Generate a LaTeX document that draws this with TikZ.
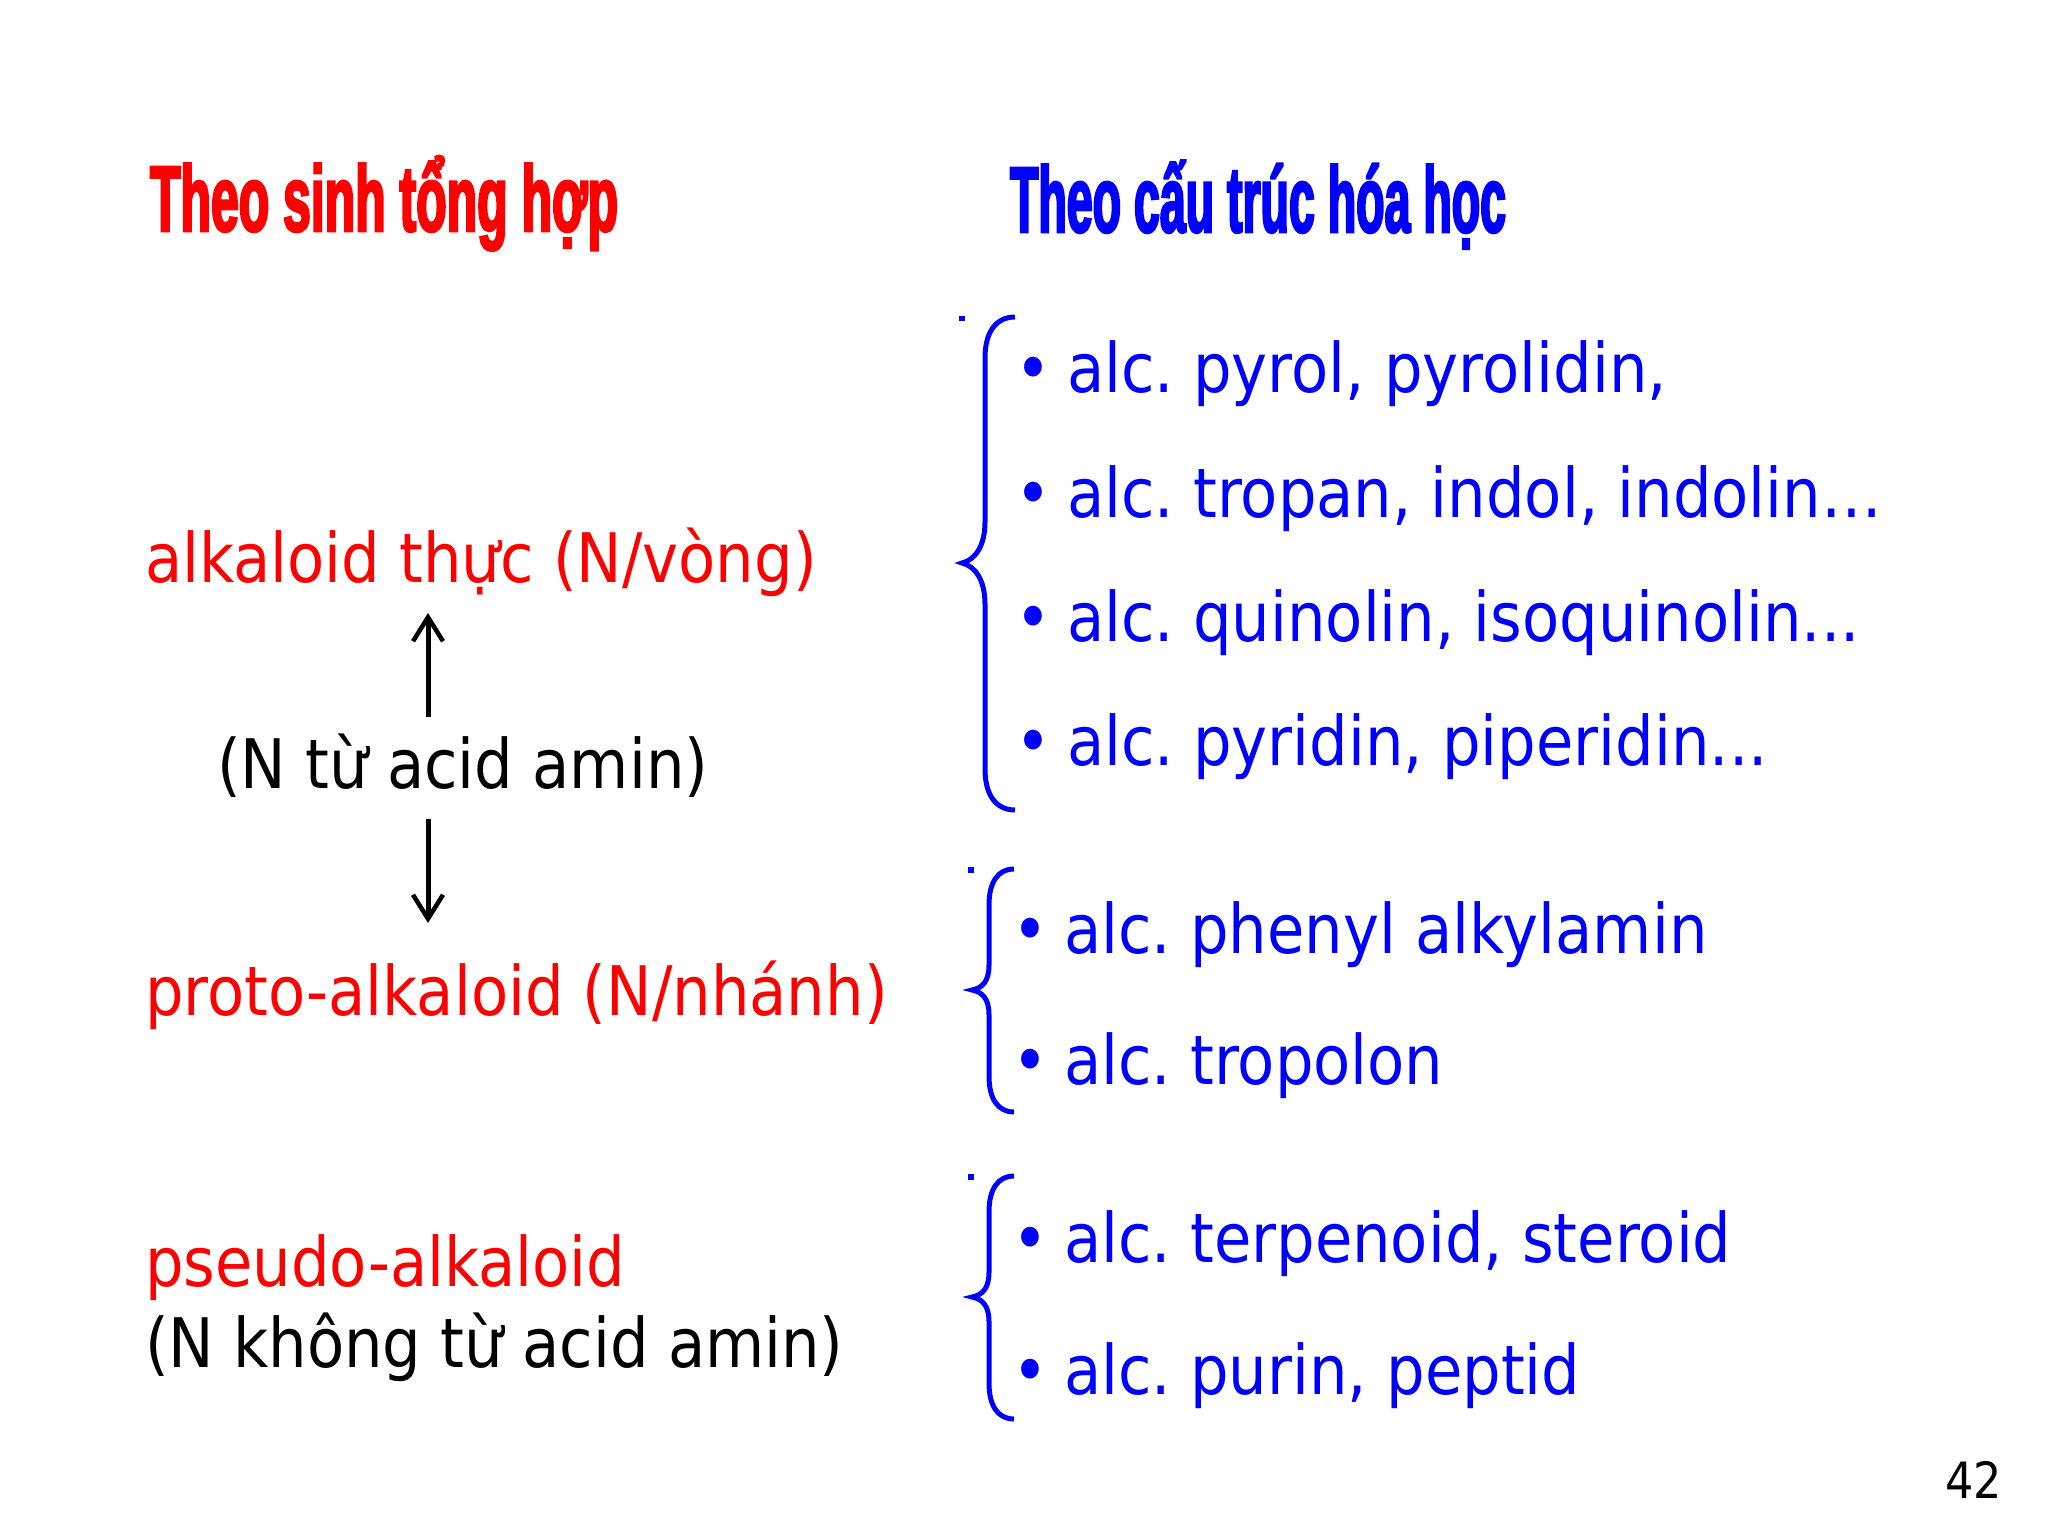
\documentclass[tikz,border=0pt]{standalone}
\usepackage{fontspec}
\usepackage{graphicx}
\usetikzlibrary{arrows.meta}
\newfontfamily\bodyfont[FakeStretch=0.89]{DejaVu Sans}
\newfontfamily\titlefont[FakeStretch=0.72,FakeBold=3]{Liberation Sans}
\definecolor{pptred}{RGB}{255,0,0}
\definecolor{pptblue}{RGB}{0,0,255}
\tikzset{
  txt/.style={anchor=base west, inner sep=0pt, outer sep=0pt, font=\bodyfont\fontsize{68.3}{80}\selectfont\frenchspacing},
  redtxt/.style={txt, text=pptred},
  blktxt/.style={txt, text=black},
  item/.style={txt, text=pptblue},
  ttl/.style={anchor=base west, inner sep=0pt, outer sep=0pt},
  brace/.style={draw=pptblue, line width=5pt, line cap=butt},
  dotmark/.style={fill=pptblue},
  arr/.style={draw=black, line width=5pt, -{Straight Barb[length=24pt,width=30pt,line width=4.5pt]}},
}
\newcommand{\bul}{\llap{•\hspace{16pt}}}
\begin{document}
\begin{tikzpicture}[x=1pt,y=-1pt]
\useasboundingbox (0,0) rectangle (2048,1536);
\fill[white] (0,0) rectangle (2048,1536);

% titles
\node[ttl, text=pptred] (t1) at (150,231) {\resizebox{468pt}{\height}{\titlefont\bfseries\fontsize{93}{100}\selectfont Theo sinh tổng hợp}};
\node[ttl, text=pptblue] (t2) at (1010,232) {\resizebox{496pt}{\height}{\titlefont\bfseries\fontsize{93}{100}\selectfont Theo cấu trúc hóa học}};

% left column
\node[redtxt] (alk) at (145,582) {alkaloid thực (N/vòng)};
\node[blktxt] (mid) at (217,788) {(N từ acid amin)};
\node[redtxt] (proto) at (145,1015) {proto-alkaloid (N/nhánh)};
\node[redtxt] (pseudo) at (145,1286) {pseudo-alkaloid};
\node[blktxt] (pseudo2) at (145,1367) {(N không từ acid amin)};

% arrows
\coordinate (upS) at (428,717);
\coordinate (upE) at (428,613);
\coordinate (dnS) at (428,819);
\coordinate (dnE) at (428,923);
\draw[arr] (upS) -- (upE);
\draw[arr] (dnS) -- (dnE);

% right column items
\node[item] (i1) at (1067,392) {\bul alc. pyrol, pyrolidin,};
\node[item] (i2) at (1067,517) {\bul alc. tropan, indol, indolin…};
\node[item] (i3) at (1067,641) {\bul alc. quinolin, isoquinolin...};
\node[item] (i4) at (1067,765) {\bul alc. pyridin, piperidin...};
\node[item] (i5) at (1064,953) {\bul alc. phenyl alkylamin};
\node[item] (i6) at (1064,1084) {\bul alc. tropolon};
\node[item] (i7) at (1064,1262) {\bul alc. terpenoid, steroid};
\node[item] (i8) at (1064,1394) {\bul alc. purin, peptid};

% braces
\draw[brace] (1015,317) .. controls (996,317) and (985,332) .. (985,358) -- (985,522)
  .. controls (985,546) and (975,560) .. (962,563)
  .. controls (975,566) and (985,580) .. (985,604) -- (985,769)
  .. controls (985,795) and (996,810) .. (1015,810);
\draw[brace] (1014,869) .. controls (998,869) and (989,882) .. (989,905) -- (989,965)
  .. controls (989,982) and (982,988) .. (972,990)
  .. controls (982,992) and (989,998) .. (989,1015) -- (989,1076)
  .. controls (989,1099) and (998,1112) .. (1014,1112);
\draw[brace] (1014,1176) .. controls (998,1176) and (989,1189) .. (989,1212) -- (989,1272)
  .. controls (989,1289) and (982,1295) .. (972,1297)
  .. controls (982,1299) and (989,1305) .. (989,1322) -- (989,1383)
  .. controls (989,1406) and (998,1419) .. (1014,1419);
\fill[dotmark] (959,316) rectangle (965,321);
\fill[dotmark] (968,867) rectangle (974,873);
\fill[dotmark] (968,1174) rectangle (974,1180);

% page number
\node[anchor=base west, inner sep=0pt, font=\bodyfont\fontsize{50}{60}\selectfont] (pg) at (1945,1498) {42};
\end{tikzpicture}
\end{document}
